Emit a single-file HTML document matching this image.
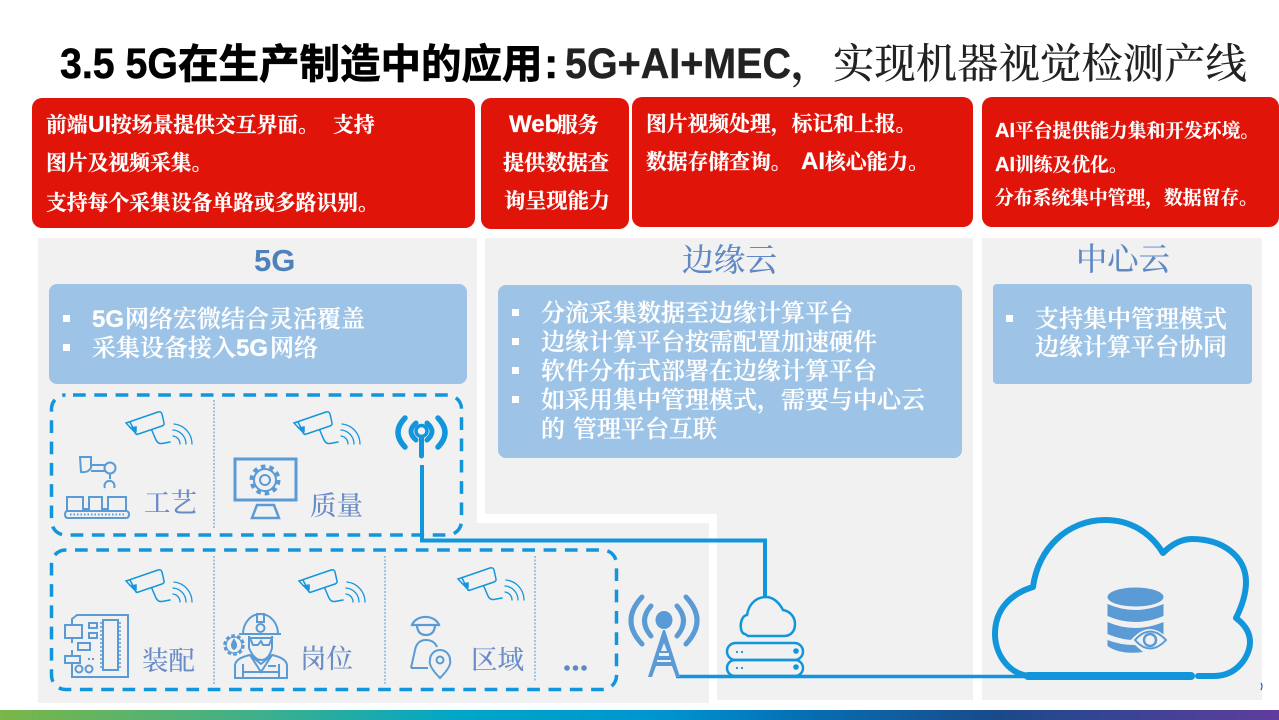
<!DOCTYPE html>
<html><head><meta charset="utf-8">
<style>
html,body{margin:0;padding:0;background:#fff;width:1279px;height:720px;overflow:hidden}
svg{display:block}
.serif{font-family:"Liberation Sans","Noto Serif CJK SC",serif}
.sans{font-family:"Liberation Sans","Noto Sans CJK SC",sans-serif}
.r{fill:#fff;stroke:#fff;stroke-width:.25;font-weight:700;font-size:20.8px}
.s{fill:#fff;stroke:#fff;stroke-width:.2;font-weight:700;font-size:18.8px}
.b{fill:#fff;stroke:#fff;stroke-width:.25;font-weight:600;font-size:24px}
.g{fill:#6a8cc6;font-size:26.5px;font-weight:500}
.i{fill:none;stroke:#5b9bd5;stroke-width:2}
.c{fill:none;stroke:#1496dc;stroke-width:1.5;stroke-linecap:round}
</style></head><body>
<svg width="1279" height="720" viewBox="0 0 1279 720" xmlns="http://www.w3.org/2000/svg">
<defs>
<linearGradient id="band" x1="0" x2="1" y1="0" y2="0">
<stop offset="0" stop-color="#7ab648"/><stop offset=".2" stop-color="#3fb08a"/><stop offset=".36" stop-color="#00a6c8"/><stop offset=".52" stop-color="#0094cf"/><stop offset=".62" stop-color="#0571b5"/><stop offset=".78" stop-color="#1a4a8a"/><stop offset="1" stop-color="#603c9e"/>
</linearGradient>
<symbol id="cam" viewBox="0 0 68 36" width="68" height="36" overflow="visible">
<g class="c">
<path d="M1,12 L33,1 Q36,0 37,3 L39,12 Q39.500,14 37,15 L12,23.500 Z"/>
<path d="M5,11 L11,23"/><path d="M6,17 l5,-1 l0,4z" fill="#1496dc"/>
<path d="M26.700,19 L31,29 Q33,33 37,32.500 L45,31"/>
<path d="M48,25 A8,8 0 0 1 55,33 M48,19 A14,14 0 0 1 61,33 M49,13 A20,20 0 0 1 67,33" stroke-width="1.300"/>
</g>
</symbol>
</defs>

<!-- title -->
<g font-weight="700">
<text x="60" y="78" class="sans" font-size="43" fill="#000" stroke="#000" stroke-width=".5" textLength="118" lengthAdjust="spacingAndGlyphs">3.5 5G</text>
<text x="178" y="78" class="sans" font-size="40.500" fill="#000" stroke="#000" stroke-width=".7">在生产制造中的应用</text>
<text x="544" y="78" class="sans" font-size="43" fill="#000" stroke="#000" stroke-width=".5">:</text>
<text x="565" y="78" class="sans" font-size="43" fill="#222" stroke="#222" stroke-width=".4" textLength="226" lengthAdjust="spacingAndGlyphs">5G+AI+MEC</text>
<text x="791" y="78" class="serif" font-size="41" fill="#222">，</text>
</g>
<text x="833" y="78" class="serif" font-size="41.400" fill="#222" font-weight="500">实现机器视觉检测产线</text>

<!-- panels -->
<path d="M38,238 H477 V523 H709 V703 H38 Z" fill="#f1f1f1"/>
<path d="M485,238 H973 V700 H717 V514 H485 Z" fill="#f1f1f1"/>
<rect x="982" y="238" width="280" height="462" fill="#f1f1f1"/>

<!-- red boxes -->
<rect x="32" y="98" width="443" height="130" rx="10" fill="#e1140a"/>
<rect x="481" y="98" width="148" height="131" rx="10" fill="#e1140a"/>
<rect x="632" y="97" width="341" height="130" rx="10" fill="#e1140a"/>
<rect x="982" y="97" width="297" height="130" rx="10" fill="#e1140a"/>
<g class="serif">
<text y="132" class="r"><tspan x="46">前端</tspan><tspan x="88" style="font-size:23px">UI</tspan><tspan x="111">按场景提供交互界面。</tspan><tspan x="333">支持</tspan></text>
<text x="46" y="170" class="r">图片及视频采集。</text>
<text x="46" y="210" class="r">支持每个采集设备单路或多路识别。</text>
<text y="132" class="r"><tspan x="509" style="font-size:24px">Web</tspan><tspan x="557">服务</tspan></text>
<text x="503" y="170" class="r" style="font-size:21.2px">提供数据查</text>
<text x="504" y="208" class="r" style="font-size:21.2px">询呈现能力</text>
<text x="646" y="131" class="r">图片视频处理，标记和上报。</text>
<text y="169" class="r"><tspan x="646">数据存储查询。</tspan><tspan x="801" style="font-size:24px">AI</tspan><tspan x="825">核心能力。</tspan></text>
<text y="137" class="s"><tspan x="995" style="font-size:20px">AI</tspan><tspan x="1015">平台提供能力集和开发环境。</tspan></text>
<text y="171" class="s"><tspan x="995" style="font-size:20px">AI</tspan><tspan x="1015">训练及优化。</tspan></text>
<text x="995" y="204" class="s">分布系统集中管理，数据留存。</text>
</g>

<!-- headers -->
<text x="254" y="271" class="sans" font-size="31" font-weight="700" fill="#4f81bd">5G</text>
<text x="682" y="271" class="serif" font-size="31.700" font-weight="500" fill="#5f88c4">边缘云</text>
<text x="1076" y="270" class="serif" font-size="31.300" font-weight="500" fill="#5f88c4">中心云</text>

<!-- blue boxes -->
<rect x="49" y="284" width="418" height="100" rx="8" fill="#9dc3e6"/>
<rect x="498" y="285" width="464" height="173" rx="8" fill="#9dc3e6"/>
<rect x="993" y="284" width="259" height="100" rx="4" fill="#9dc3e6"/>
<g fill="#fff">
<rect x="63" y="315" width="7" height="7"/><rect x="63" y="344" width="7" height="7"/>
<rect x="512" y="309" width="7" height="7"/><rect x="512" y="338" width="7" height="7"/><rect x="512" y="367" width="7" height="7"/><rect x="512" y="396" width="7" height="7"/>
<rect x="1006" y="315" width="7" height="7"/>
</g>
<g class="serif">
<text y="327" class="b"><tspan x="92">5G</tspan><tspan x="125">网络宏微结合灵活覆盖</tspan></text>
<text y="356" class="b"><tspan x="92">采集设备接入</tspan><tspan x="236">5G</tspan><tspan x="270">网络</tspan></text>
<text x="541" y="321" class="b">分流采集数据至边缘计算平台</text>
<text x="541" y="350" class="b">边缘计算平台按需配置加速硬件</text>
<text x="541" y="379" class="b">软件分布式部署在边缘计算平台</text>
<text x="541" y="408" class="b">如采用集中管理模式，需要与中心云</text>
<text y="437" class="b"><tspan x="541">的</tspan><tspan x="573">管理平台互联</tspan></text>
<text x="1035" y="327" class="b">支持集中管理模式</text>
<text x="1035" y="355" class="b">边缘计算平台协同</text>
</g>

<!-- dashed groups -->
<rect x="51.500" y="395" width="410" height="140" rx="14" fill="none" stroke="#1296db" stroke-width="3.500" stroke-dasharray="12.700 8.600" stroke-dashoffset="-7.500"/>
<rect x="51.500" y="550" width="565" height="139.500" rx="14" fill="none" stroke="#1296db" stroke-width="3.500" stroke-dasharray="12.700 8.600" stroke-dashoffset="-9.500"/>
<g stroke="#4a9bd8" stroke-width="1" stroke-dasharray="2 1.500" fill="none">
<path d="M214,400V529M214,556V684M385,556V684M535,556V682"/>
</g>

<!-- cameras -->
<use href="#cam" x="125" y="411"/><use href="#cam" x="293" y="411"/>
<use href="#cam" x="125" y="569"/><use href="#cam" x="298" y="569"/><use href="#cam" x="457" y="567"/>

<!-- robot/conveyor icon -->
<g class="i" stroke-width="1.800">
<path d="M80,457 H91 V468 Q88,473 81,472 Z"/><path d="M91,465 H105 M91,471 H105"/>
<circle cx="110" cy="468" r="5.500"/><path d="M110,474 V479"/><path d="M105,488 A5,5 0 1 1 114,488"/>
<path d="M68,518 H126 Q129,518 129,514.500 Q129,511 126,511 H68 Q65,511 65,514.500 Q65,518 68,518Z"/>
<path d="M67,511 V497 H83 V509 H89 V497 H102 V509 H108 V497 H126 V511"/>
<path d="M70,514.500 H124" stroke-dasharray="1.500 2"/>
</g>
<!-- monitor icon -->
<g class="i">
<rect x="235" y="459" width="61" height="41" stroke-width="3"/>
<path d="M252,518 L257,505 H274 L279,518 Z" stroke-width="2.500"/>
<circle cx="265" cy="480" r="5" stroke-width="2"/>
<circle cx="265" cy="480" r="13.500" stroke-dasharray="4.500 3.970" stroke-width="4"/>
<circle cx="265" cy="480" r="11" stroke-width="2"/>
</g>
<!-- board icon -->
<g class="i" stroke-width="1.800">
<path d="M72,625 V619 L77,615 H128 V677 H72 V664 M72,656 V650 M72,643 V638"/>
<rect x="65" y="625" width="17" height="13"/>
<rect x="89" y="623" width="8" height="5"/><rect x="89" y="633" width="8" height="5"/>
<rect x="103" y="620" width="15" height="50"/>
<rect x="78" y="643" width="12" height="7"/>
<rect x="65" y="656" width="15" height="7"/>
<circle cx="79" cy="669" r="3.500"/><circle cx="89" cy="669" r="3.500"/>
<path d="M88,659 h8" stroke-dasharray="2 2"/>
<path d="M101,622 V668 M120,622 V668" stroke-dasharray="2 2" stroke-width="1.500"/>
</g>
<!-- worker icon -->
<g class="i" stroke-width="1.800">
<path d="M243,634 A17.500,20 0 0 1 278,634 Z"/>
<path d="M239,634 H281"/>
<path d="M249,636 V648 Q254,660 261,660 Q269,660 272,648 V636"/>
<path d="M250,638 H272 L269,645 H263 L261,641 L258,645 H253 Z"/>
<rect x="257" y="614" width="7" height="8"/><circle cx="260.500" cy="628" r="4"/>
<path d="M235,678 V665 Q236,658 250,655 L261,664 L272,655 Q286,658 287,665 V678 Z"/>
<path d="M250,655 L261,672 L272,655 M243,678 V664 M279,678 V664 M243,672 H279 M268,666 h8"/>
<circle cx="234" cy="645" r="9" stroke-dasharray="3.500 2.150" stroke-width="3.500"/>
<circle cx="234" cy="645" r="8" stroke-width="1.200"/>
<path d="M234,640 Q230,646 234,649 Q238,646 234,640Z" fill="#5b9bd5"/>
</g>
<!-- locator icon -->
<g class="i" stroke-width="2.500">
<path d="M412,625 A14,11 0 0 1 439,625 Z" stroke-width="2.200"/>
<path d="M417,626 Q418,635 426,635 Q434,635 435,626" stroke-width="2.200"/>
<path d="M411,668 L415,650 Q417,640 426,640 Q434,640 437,647 M411,668 H428"/>
<path d="M440,678 Q428,666 430,660 A10,10 0 0 1 450,660 Q452,666 440,678 Z"/>
<circle cx="440" cy="660" r="3.500"/>
</g>
<!-- dots -->
<g fill="#5f88c4"><circle cx="567" cy="668" r="2.800"/><circle cx="575.500" cy="668" r="2.800"/><circle cx="584" cy="668" r="2.800"/></g>

<!-- labels -->
<g class="serif">
<text x="144" y="512" class="g">工艺</text>
<text x="310" y="515" class="g">质量</text>
<text x="142" y="670" class="g">装配</text>
<text x="300" y="668" class="g">岗位</text>
<text x="471" y="669" class="g">区域</text>
</g>

<!-- top antenna -->
<g fill="none" stroke="#1296db" stroke-linecap="round">
<circle cx="421.500" cy="431" r="5.500" stroke-width="3.500"/>
<path d="M421.500,437 V456" stroke-width="5"/>
<path d="M416,423 Q406,431.500 416,440 M427,423 Q437,431.500 427,440" stroke-width="5"/>
<path d="M405,418 Q391,432.500 405,447 M438,418 Q452,432.500 438,447" stroke-width="5.500"/>
</g>
<!-- connectors -->
<path d="M422,465 V540.500 H765 V597" fill="none" stroke="#1296db" stroke-width="4"/>
<path d="M676,676.500 H1030" fill="none" stroke="#1296db" stroke-width="3.500"/>

<!-- tower -->
<g fill="none" stroke="#5b9bd5" stroke-linecap="round" stroke-width="5">
<path d="M642,597 Q620,620.500 642,644 M686,597 Q708,620.500 686,644"/>
<path d="M651,606 Q638,620.500 651,636 M677,606 Q690,620.500 677,636"/>
</g>
<ellipse cx="664" cy="620" rx="8.500" ry="9" fill="#5b9bd5"/>
<path d="M663,630 H665 L680,677 H676 L672,666 H656 L652,677 H648 Z" fill="#5b9bd5"/>
<rect x="659" y="653" width="10" height="3" fill="#f1f1f1"/>
<rect x="657" y="660" width="14" height="2" fill="#f1f1f1"/>
<path d="M664,643 L667,651 H661 Z" fill="#f1f1f1"/>

<!-- small cloud + servers -->
<path d="M745,634 C739,634 739,616 747,615 C749,603 757,597 766,597 C774,597 780,604 783,610 C789,611 795,616 795,624 C795,631 791,636 784,636 H748 Z" fill="none" stroke="#1296db" stroke-width="2.500"/>
<g fill="none" stroke="#1296db" stroke-width="2.500">
<rect x="727" y="643" width="76" height="17" rx="8.500"/>
<rect x="727" y="660" width="76" height="16" rx="8"/>
</g>
<g fill="#1296db"><circle cx="796" cy="651" r="2.800"/><circle cx="796" cy="667" r="2.800"/><circle cx="737" cy="652" r="1.100"/><circle cx="742" cy="652" r="1.100"/><circle cx="737" cy="668" r="1.100"/><circle cx="742" cy="668" r="1.100"/></g>

<!-- big cloud -->
<path d="M1198,676 H1214 C1238,676 1250,655 1250,642 C1250,632 1244,624 1236,618 C1243,604 1246,592 1246,582 C1246,556 1222,539 1192,539 C1182,539 1172,544 1163,553 C1150,532 1130,520 1105,520 C1068,520 1038,548 1033,587 C1010,594 995,610 995,634 C995,655 1010,676 1032,676 H1191" fill="none" stroke="#1296db" stroke-width="6" stroke-linecap="round" stroke-linejoin="round"/>
<path d="M1028,676 H1191" stroke="#1296db" stroke-width="8" stroke-linecap="round"/>

<!-- database + eye -->
<g fill="#5b9bd5">
<ellipse cx="1135.500" cy="597" rx="28" ry="9.500"/>
<path d="M1107.500,604 Q1135,616 1163.500,604 V616 Q1135,628 1107.500,616 Z"/>
<path d="M1107.500,622 Q1135,634 1163.500,622 V634 Q1135,646 1107.500,634 Z"/>
<path d="M1107.500,640 Q1120,645 1135,645 L1143,652 Q1120,655 1107.500,646 Z"/>
</g>
<path d="M1131,640 Q1150,618 1169,640 Q1150,662 1131,640 Z" fill="#f1f1f1"/>
<path d="M1135,640 Q1150,623 1166,640 Q1150,657 1135,640 Z" fill="none" stroke="#5b9bd5" stroke-width="2"/>
<circle cx="1150" cy="640" r="6" fill="none" stroke="#5b9bd5" stroke-width="2.500"/>

<path d="M1261,683 q2,3 0,7" stroke="#1f5fb0" stroke-width="1.200" fill="none"/>
<!-- band -->
<rect x="0" y="710" width="1279" height="10" fill="url(#band)"/>
</svg>
</body></html>
